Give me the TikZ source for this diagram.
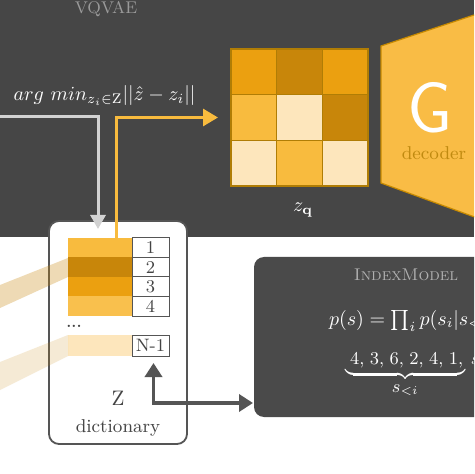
\documentclass[tikz,border=0pt]{standalone}
\usepackage{amsmath}
\usetikzlibrary{arrows.meta,calc}
\definecolor{bgdark}{HTML}{464646}
\definecolor{imfill}{HTML}{4A4A4A}
\definecolor{oA}{HTML}{C8860A}
\definecolor{oB}{HTML}{EBA010}
\definecolor{oC}{HTML}{F8BB3E}
\definecolor{oD}{HTML}{FDE6BC}
\definecolor{gridline}{HTML}{B07D05}
\definecolor{decfill}{HTML}{F9BC45}
\definecolor{decborder}{HTML}{C88A00}
\definecolor{decText}{HTML}{C08A10}
\definecolor{grayline}{HTML}{D2D2D2}
\definecolor{darkline}{HTML}{555555}
\definecolor{dicttext}{HTML}{444444}
\definecolor{vqgray}{HTML}{9A9A9A}
\definecolor{imtitle}{HTML}{B0B0B0}
\newcommand\setfs[1]{\fontsize{#1}{#1}\selectfont}
\newcommand\sqsp{\hspace{0.3em}}
\begin{document}
\begin{tikzpicture}[x=0.5pt,y=-0.5pt,
  every node/.style={inner sep=0pt,outer sep=0pt},
  cellbox/.style={draw=gridline,line width=0.6pt,minimum width=22.83pt,minimum height=22.83pt,anchor=north west},
  entrybox/.style={minimum width=32pt,minimum height=9.75pt,anchor=north west},
  idxbox/.style={draw=darkline,fill=white,line width=0.5pt,minimum width=18.5pt,minimum height=9.75pt,anchor=north west,font=\setfs{9},text=dicttext},
  grayarr/.style={draw=grayline,line width=1.5pt,-{Triangle[width=7.5pt,length=7pt]}},
  orarr/.style={draw=oC,line width=1.5pt,-{Triangle[width=8.5pt,length=7.5pt]}},
  darkarr/.style={draw=darkline,line width=1.8pt,{Triangle[width=8.5pt,length=7pt]}-{Triangle[width=8.5pt,length=7pt]}},
]
\useasboundingbox (0,0) rectangle (474,474);
\clip (0,0) rectangle (474,474);
\fill[white] (0,0) rectangle (474,474);
\fill[bgdark] (0,0) rectangle (474,237);

% title
\node[text=vqgray,font=\setfs{8.5},anchor=base] (vq) at (106,13.5) {VQVAE};

% grid z_q
\foreach \r/\c/\col in {1/1/oB,1/2/oA,1/3/oB,2/1/oC,2/2/oD,2/3/oA,3/1/oD,3/2/oC,3/3/oD}
  \node[cellbox,fill=\col] (g\r\c) at ({231+(\c-1)*45.67},{49+(\r-1)*45.67}) {};
\node[text=white,font=\setfs{10},anchor=base] (zq) at (303,212) {$z_{\mathbf q}$};

% decoder
\fill[decfill,draw=decborder,line width=0.6pt] (381,46) -- (480,13) -- (480,219) -- (381,183) -- cycle;
\node[text=white,font=\sffamily\setfs{36},anchor=base] (G) at (430,133) {G};
\node[text=decText,font=\setfs{9.3},anchor=base] (dec) at (434,160) {decoder};

% argmin label
\node[text=white,font=\setfs{10},anchor=base] (am) at (104.5,101) {$arg\ min_{z_i\in\mathrm{Z}}||\hat{z}-z_i||$};

% dictionary
\node[draw=darkline,fill=white,rounded corners=5pt,line width=0.9pt,minimum width=69pt,minimum height=111.5pt,anchor=north west] (dict) at (49,221) {};
\node[entrybox,fill=oC] (e1) at (68,238) {};
\node[entrybox,fill=oA] (e2) at (68,257.5) {};
\node[entrybox,fill=oB] (e3) at (68,277) {};
\node[entrybox,fill=oC!92!white] (e4) at (68,296.5) {};
\node[idxbox] (i1) at (132,238) {1};
\node[idxbox] (i2) at (132,257.5) {2};
\node[idxbox] (i3) at (132,277) {3};
\node[idxbox] (i4) at (132,296.5) {4};
\node[text=dicttext,font=\bfseries\setfs{7}] (dots) at (74,326) {...};
\node[entrybox,fill=oD,minimum height=10.5pt] (eN) at (68,335) {};
\node[idxbox,minimum height=10.5pt] (idxN) at (132,335) {N-1};
\node[text=dicttext,font=\setfs{10.5},anchor=base] (Z) at (118,405) {Z};
\node[text=dicttext,font=\setfs{9.3},anchor=base] (dic) at (118,432) {dictionary};

% faded bands
\fill[oA,opacity=0.3] (0,285) -- (68,258) -- (68,277) -- (0,308) -- cycle;
\fill[oA,opacity=0.17] (0,362) -- (68,335) -- (68,356) -- (0,390) -- cycle;

% index model
\node[fill=imfill,rounded corners=5pt,minimum width=123pt,minimum height=80pt,anchor=north west] (im) at (254,257) {};
\node[text=imtitle,font=\setfs{8.5},anchor=base] (imt) at (406,281) {\textsc{IndexModel}};
\node[text=white,font=\setfs{10},anchor=base west] (ps) at (329,325) {$p(s) = \prod_i p(s_i|s_{<i})$};
\node[text=white,font=\setfs{9},anchor=base west] (seq) at (345,364) {$\underbrace{\hspace{2.5pt}\text{4,\sqsp3,\sqsp6,\sqsp2,\sqsp4,\sqsp1,}\hspace{1pt}}_{\textstyle s_{<i}}$\sqsp$s_i$};

% arrows
\coordinate (gin) at (0,117);
\coordinate (gtip) at (98,229);
\draw[grayarr] (gin) -| (gtip);
\draw[orarr] ($(e1.north)+(16,0)$) |- ($(g21.west)+(-13,0)$);
\draw[darkarr] ($(idxN.south)+(3,7)$) |- ($(im.south west)+(-1,-14)$);
\end{tikzpicture}
\end{document}
